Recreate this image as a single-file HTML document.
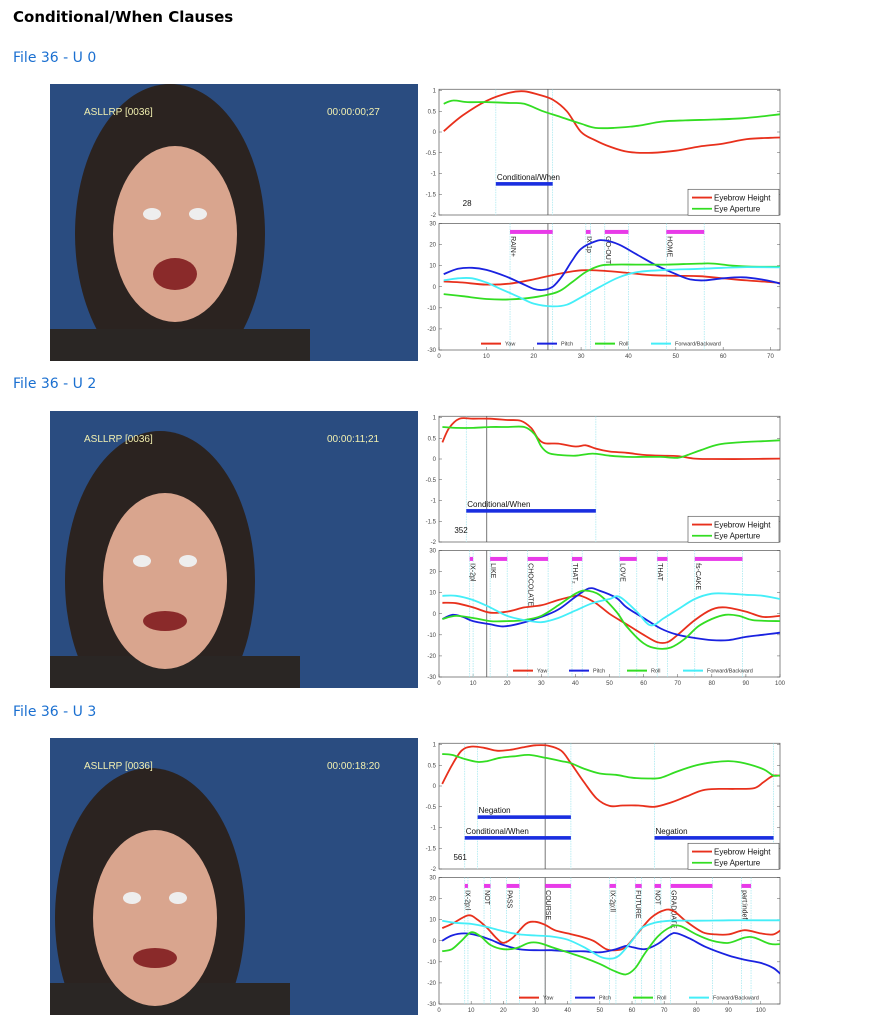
<!DOCTYPE html>
<html><head><meta charset="utf-8">
<style>
body{margin:0;background:#fff;width:878px;height:1024px;overflow:hidden;position:relative;font-family:"Liberation Sans",sans-serif}
h1{position:absolute;left:13px;top:8px;margin:0;font-size:15px;font-weight:bold;color:#000;font-family:"DejaVu Sans","Liberation Sans",sans-serif}
.fl{position:absolute;left:13px;font-size:14px;color:#1a6fd0;font-family:"DejaVu Sans","Liberation Sans",sans-serif}
.ph{position:absolute;left:50px;width:368px;height:277px;overflow:hidden}
.ch{position:absolute;left:420px;width:366px;height:282px}
</style></head><body>
<h1>Conditional/When Clauses</h1>
<div class="fl" style="top:50px">File 36 - U 0</div>
<div class="fl" style="top:376px">File 36 - U 2</div>
<div class="fl" style="top:704px">File 36 - U 3</div>
<div class="ph" id="ph0" style="top:84px"></div>
<div class="ph" id="ph1" style="top:411px"></div>
<div class="ph" id="ph2" style="top:738px"></div>
<svg class="ch" id="ch0" style="top:84px"></svg>
<svg class="ch" id="ch1" style="top:411px"></svg>
<svg class="ch" id="ch2" style="top:738px"></svg>
<script>
// ---------- Chart U0 ----------
const c1Eyebrow=[[1,0.02],[5,0.4],[10,0.75],[15,0.95],[18,0.98],[21,0.9],[24,0.78],[27,0.5],[30,0.0],[33,-0.2],[36,-0.35],[40,-0.48],[45,-0.5],[50,-0.45],[55,-0.35],[60,-0.28],[65,-0.17],[70,-0.14],[73,-0.13]];
const c1Eye=[[1,0.68],[3,0.76],[6,0.72],[10,0.72],[15,0.7],[18,0.68],[22,0.5],[26,0.35],[30,0.2],[33,0.1],[37,0.1],[42,0.15],[47,0.25],[52,0.28],[58,0.3],[64,0.33],[70,0.4],[73,0.44]];
const c1Yaw=[[1,2.5],[5,2],[10,1],[15,1.5],[20,3.5],[25,6],[30,7.8],[35,7.5],[40,6.5],[45,5.5],[50,5.2],[55,5],[60,4],[65,3],[70,2.2],[73,1.5]];
const c1Pitch=[[1,6],[4,8.5],[7,9],[10,8],[14,5],[17,2],[20,-1],[22,-1.5],[24,0],[26,5],[28,12],[30,18],[33,21.5],[35,22],[38,20],[42,15],[46,10],[50,6],[53,3.5],[56,3],[60,4],[64,4.5],[68,3.5],[72,1.5],[73,0]];
const c1Roll=[[1,-3.5],[5,-4.5],[10,-5.8],[15,-6],[20,-5],[25,-2.5],[28,2],[31,7],[34,10],[37,10.5],[42,10.5],[48,10.5],[55,11],[58,11],[62,10],[66,9.5],[73,9.5]];
const c1Fwd=[[1,3],[4,4],[7,4],[10,2],[13,-1],[17,-5],[20,-8],[24,-9.3],[27,-8.5],[30,-5],[34,0],[38,4.5],[42,7],[48,8],[55,8.5],[60,9],[65,9.3],[73,9.2]];
const c1Glosses=[["RAIN+",15,24],["IX-1p",31,32],["GO-OUT",35,40],["HOME",48,56]];
const c1Bars=[["Conditional/When",12,24,-1.25]];
const c1Marks=[12,24];
const c1XTicks=[0,10,20,30,40,50,60,70];
// ---------- Chart U2 ----------
const c2Eyebrow=[[1,0.4],[3,0.75],[6,0.97],[10,0.97],[15,0.97],[20,0.94],[24,0.92],[27,0.75],[29,0.5],[31,0.38],[35,0.37],[40,0.3],[43,0.33],[46,0.25],[50,0.18],[55,0.15],[60,0.1],[65,0.08],[70,0.07],[75,0.01],[80,0],[90,0],[100,0.01]];
const c2Eye=[[1,0.77],[5,0.75],[10,0.75],[15,0.77],[20,0.77],[25,0.77],[28,0.6],[30,0.3],[32,0.15],[35,0.1],[40,0.08],[45,0.13],[50,0.08],[55,0.05],[60,0.05],[65,0.05],[70,0.03],[73,0.1],[77,0.22],[82,0.35],[88,0.4],[95,0.43],[100,0.45]];
const c2Yaw=[[1,5.2],[5,5],[10,3],[15,0.5],[20,1],[25,3],[30,4],[35,6.5],[40,8.5],[42,8.3],[46,5],[50,0],[55,-5],[60,-10],[64,-13.5],[67,-13.5],[70,-10],[75,-3],[80,2],[84,3],[90,1],[95,-1.5],[100,-1]];
const c2Pitch=[[1,-2.5],[4,-0.5],[7,-1.5],[10,-3.5],[15,-5],[19,-6],[24,-4.5],[30,-1.5],[35,2],[40,8],[44,12],[47,11],[52,7.5],[55,3],[60,-2],[65,-7],[70,-10],[75,-11.5],[80,-12.5],[85,-12.5],[90,-11],[95,-10],[100,-9]];
const c2Roll=[[1,-2.5],[5,-1],[10,-2],[15,-3.5],[20,-3.5],[25,-3],[30,-1],[35,4],[40,9.5],[43,11],[47,9],[52,1],[55,-6],[60,-14],[64,-16.5],[68,-16],[72,-12],[76,-6],[80,-2.5],[84,-0.5],[88,-1],[92,-3],[100,-3.5]];
const c2Fwd=[[1,8.5],[5,8.5],[10,6.5],[15,3],[20,-1],[25,-3],[30,-4],[35,-2],[40,1.5],[45,5],[50,7],[53,8],[58,1],[62,-5.5],[66,-2],[70,2],[75,7],[80,9.5],[85,9.5],[90,9],[95,8.5],[100,7]];
const c2Glosses=[["IX-2pl",9,10],["LIKE",15,20],["CHOCOLATE",26,32],["THAT₂",39,42],["LOVE",53,58],["THAT",64,67],["fs-CAKE",75,89]];
const c2Bars=[["Conditional/When",8,46,-1.25]];
const c2Marks=[8,46];
const c2XTicks=[0,10,20,30,40,50,60,70,80,90,100];
// ---------- Chart U3 ----------
const c3Eyebrow=[[1,0.05],[4,0.5],[7,0.85],[10,0.95],[14,0.92],[18,0.85],[22,0.87],[26,0.93],[30,0.98],[34,0.97],[38,0.85],[41,0.55],[45,0.1],[49,-0.3],[53,-0.48],[57,-0.47],[62,-0.47],[67,-0.5],[72,-0.4],[77,-0.25],[82,-0.1],[87,-0.07],[92,-0.07],[98,-0.05],[101,0.1],[104,0.25],[107,0.23]];
const c3Eye=[[1,0.77],[4,0.75],[8,0.65],[12,0.58],[15,0.6],[19,0.68],[24,0.72],[28,0.75],[33,0.68],[38,0.6],[41,0.55],[45,0.42],[50,0.3],[55,0.27],[60,0.2],[65,0.18],[69,0.2],[74,0.35],[80,0.5],[85,0.57],[90,0.6],[95,0.55],[101,0.4],[104,0.25],[107,0.27]];
const c3Yaw=[[1,6],[4,8],[9,12],[12,10],[15,6],[18,1],[20,-1],[23,1.5],[27,8],[30,9],[33,7.5],[36,5],[40,3.5],[44,2],[48,0],[52,-4],[55,-4.5],[58,-3],[62,4],[66,11],[70,14.5],[73,14],[77,9],[82,4],[86,3],[90,3],[95,5],[100,3.5],[104,3],[107,6]];
const c3Pitch=[[1,0],[4,2.5],[8,3.5],[12,2.5],[16,0.5],[20,-2],[25,-4],[30,-4.5],[35,-4.5],[40,-5],[45,-5],[50,-5.5],[55,-4],[58,-2.5],[60,-3],[64,-4],[68,-1.5],[72,3],[74,3.5],[78,1],[83,-3],[90,-7],[95,-9],[100,-10.5],[104,-13],[107,-17]];
const c3Roll=[[1,-5],[4,-4],[7,0],[10,4],[13,2],[16,-2],[20,-4],[24,-3.5],[28,-1],[31,-1],[35,-3],[40,-5.5],[45,-8],[50,-11],[54,-14],[58,-16],[61,-13],[64,-6],[68,2],[72,6.5],[75,7],[80,3],[85,0],[90,-1],[95,1.5],[98,1.5],[103,-1.5],[107,-1.5]];
const c3Fwd=[[1,9.5],[5,8.5],[10,8],[15,6.5],[20,4.5],[25,3],[30,2.5],[35,2],[40,0.5],[45,-3],[50,-7.5],[53,-8.5],[56,-7],[60,0],[63,6],[67,8.5],[72,9.5],[80,9.5],[90,9.7],[100,9.7],[107,9.7]];
const c3Glosses=[["IX-2p:l",8,9],["NOT",14,16],["PASS",21,25],["COURSE",33,41],["IX-2p:ll",53,55],["FUTURE",61,63],["NOT",67,69],["GRADUATE",72,85],["part:indef",94,97]];
const c3Bars=[["Negation",12,41,-0.75],["Conditional/When",8,41,-1.25],["Negation",67,104,-1.25]];
const c3Marks=[8,12,41,67,104];
const c3XTicks=[0,10,20,30,40,50,60,70,80,90,100];

const NS="http://www.w3.org/2000/svg";
function mk(p,t,a){const e=document.createElementNS(NS,t);for(const k in a)e.setAttribute(k,a[k]);p.appendChild(e);return e;}
function smooth(pts){let d="M"+pts[0][0].toFixed(1)+","+pts[0][1].toFixed(1);
 for(let i=0;i<pts.length-1;i++){const p0=pts[Math.max(0,i-1)],p1=pts[i],p2=pts[i+1],p3=pts[Math.min(pts.length-1,i+2)];
 const c1x=p1[0]+(p2[0]-p0[0])/6,c1y=p1[1]+(p2[1]-p0[1])/6,c2x=p2[0]-(p3[0]-p1[0])/6,c2y=p2[1]-(p3[1]-p1[1])/6;
 d+=" C"+c1x.toFixed(1)+","+c1y.toFixed(1)+" "+c2x.toFixed(1)+","+c2y.toFixed(1)+" "+p2[0].toFixed(1)+","+p2[1].toFixed(1);}return d;}

function drawChart(id,cfg){
 const s=document.getElementById(id);
 const L=19,R=360;
 const X=v=>L+(v/cfg.xmax)*(R-L);
 const Yt=v=>6.5+(1-v)*(124.5/3);
 const Yb=v=>139.5+(30-v)*(126.5/60);
 const clipId=id+"c";
 const defs=mk(s,"defs",{});const cp=mk(defs,"clipPath",{id:clipId});mk(cp,"rect",{x:L,y:0,width:R-L,height:282});
 // panels
 const tp=mk(s,"rect",{x:L,y:Yt(1.03),width:R-L,height:Yt(-2)-Yt(1.03),fill:"#fff",stroke:"#555","stroke-width":0.7});
 
 
 const bp=mk(s,"rect",{x:L,y:Yb(30),width:R-L,height:Yb(-30)-Yb(30),fill:"#fff",stroke:"#555","stroke-width":0.7});
 
 
 // y ticks top
 [1,0.5,0,-0.5,-1,-1.5,-2].forEach(v=>{const t=mk(s,"text",{x:L-3,y:Yt(v)+2,"font-size":6,"text-anchor":"end",fill:"#444"});t.textContent=String(v);
  
  
  mk(s,"line",{x1:L,x2:L+3,y1:Yt(v),y2:Yt(v),stroke:"#555","stroke-width":0.5});mk(s,"line",{x1:R-3,x2:R,y1:Yt(v),y2:Yt(v),stroke:"#555","stroke-width":0.5});});
 [30,20,10,0,-10,-20,-30].forEach(v=>{const t=mk(s,"text",{x:L-3,y:Yb(v)+2,"font-size":6,"text-anchor":"end",fill:"#444"});t.textContent=String(v);
  
  
  mk(s,"line",{x1:L,x2:L+3,y1:Yb(v),y2:Yb(v),stroke:"#555","stroke-width":0.5});mk(s,"line",{x1:R-3,x2:R,y1:Yb(v),y2:Yb(v),stroke:"#555","stroke-width":0.5});});
 cfg.xticks.forEach(v=>{const t=mk(s,"text",{x:X(v),y:Yb(-30)+8,"font-size":6,"text-anchor":"middle",fill:"#444"});t.textContent=String(v);
  
  
  mk(s,"line",{x1:X(v),x2:X(v),y1:Yb(-30),y2:Yb(-30)-3,stroke:"#555","stroke-width":0.5});});
 // top panel marks
 cfg.marks.forEach(m=>{const l=mk(s,"line",{x1:X(m),x2:X(m),y1:Yt(1.03),y2:Yt(-2),stroke:"#9ee6ee","stroke-width":0.7,"stroke-dasharray":"1.5,1"});
  
  });
 mk(s,"line",{x1:X(cfg.cur),x2:X(cfg.cur),y1:Yt(1.03),y2:Yt(-2),stroke:"#555","stroke-width":0.8});
 const g1=mk(s,"g",{"clip-path":"url(#"+clipId+")"});
 [[cfg.eyebrow,"#e8301c","eyebrow-height-line"],[cfg.eye,"#33dd22","eye-aperture-line"]].forEach(([d,c,n])=>{
  const p=mk(g1,"path",{d:smooth(d.map(q=>[X(q[0]),Yt(q[1])])),fill:"none",stroke:c,"stroke-width":1.8});
  
  });
 cfg.bars.forEach(b=>{const r=mk(s,"rect",{x:X(b[1]),y:Yt(b[3])-1.8,width:X(b[2])-X(b[1]),height:3.6,fill:"#1a2ee0"});
  
  
  const t=mk(s,"text",{x:X(b[1])+1,y:Yt(b[3])-4,"font-size":8,fill:"#111"});t.textContent=b[0];
  
  });
 const fr=mk(s,"text",{x:X(cfg.frameX),y:Yt(-1.78),"font-size":8,fill:"#111"});fr.textContent=cfg.frame;
 
 
 // legend top
 const lg=mk(s,"g",{});
 mk(lg,"rect",{x:268,y:Yt(-1.38),width:91,height:26,fill:"#fff",stroke:"#444","stroke-width":0.6});
 [["Eyebrow Height","#e8301c",-1.58],["Eye Aperture","#33dd22",-1.85]].forEach(([n,c,v])=>{
  mk(lg,"line",{x1:272,x2:292,y1:Yt(v),y2:Yt(v),stroke:c,"stroke-width":1.8});
  const t=mk(lg,"text",{x:294,y:Yt(v)+2.8,"font-size":8,fill:"#111"});t.textContent=n;
  
  });
 // bottom marks
 cfg.glosses.forEach(g=>{[g[1],g[2]].forEach(m=>mk(s,"line",{x1:X(m),x2:X(m),y1:Yb(30),y2:Yb(-30),stroke:"#9ee6ee","stroke-width":0.7,"stroke-dasharray":"1.5,1"}));});
 mk(s,"line",{x1:X(cfg.cur),x2:X(cfg.cur),y1:Yb(30),y2:Yb(-30),stroke:"#555","stroke-width":0.8});
 cfg.glosses.forEach(g=>{const r=mk(s,"rect",{x:X(g[1]),y:Yb(26)-2,width:Math.max(2,X(g[2])-X(g[1])),height:4,fill:"#e83be8"});
  
  
  const tx=X(g[1])+1,ty=Yb(24);
  const t=mk(s,"text",{x:tx,y:ty,"font-size":7,fill:"#222",transform:"rotate(90 "+tx+" "+ty+")"});t.textContent=g[0];
  
  });
 const g2=mk(s,"g",{"clip-path":"url(#"+clipId+")"});
 [[cfg.yaw,"#e8301c","yaw-line"],[cfg.pitch,"#1a22e0","pitch-line"],[cfg.roll,"#33dd22","roll-line"],[cfg.fwd,"#44eef8","forward-backward-line"]].forEach(([d,c,n])=>{
  const p=mk(g2,"path",{d:smooth(d.map(q=>[X(q[0]),Yb(q[1])])),fill:"none",stroke:c,"stroke-width":1.8});
  
  });
 // bottom legend
 const lx=cfg.legX;
 [["Yaw","#e8301c",0],["Pitch","#1a22e0",56],["Roll","#33dd22",114],["Forward/Backward","#44eef8",170]].forEach(([n,c,o])=>{
  const yy=Yb(-27);
  mk(s,"line",{x1:lx+o,x2:lx+o+20,y1:yy,y2:yy,stroke:c,"stroke-width":2});
  const t=mk(s,"text",{x:lx+o+24,y:yy+2,"font-size":5.5,fill:"#333"});t.textContent=n;
  
  });
}
drawChart("ch0",{xmax:72,eyebrow:c1Eyebrow,eye:c1Eye,yaw:c1Yaw,pitch:c1Pitch,roll:c1Roll,fwd:c1Fwd,glosses:c1Glosses,bars:c1Bars,marks:c1Marks,xticks:c1XTicks,cur:23,frame:"28",frameX:5,legX:61});
drawChart("ch1",{xmax:100,eyebrow:c2Eyebrow,eye:c2Eye,yaw:c2Yaw,pitch:c2Pitch,roll:c2Roll,fwd:c2Fwd,glosses:c2Glosses,bars:c2Bars,marks:c2Marks,xticks:c2XTicks,cur:14,frame:"352",frameX:4.5,legX:93});
drawChart("ch2",{xmax:106,eyebrow:c3Eyebrow,eye:c3Eye,yaw:c3Yaw,pitch:c3Pitch,roll:c3Roll,fwd:c3Fwd,glosses:c3Glosses,bars:c3Bars,marks:c3Marks,xticks:c3XTicks,cur:33,frame:"561",frameX:4.5,legX:99});

// photos (schematic)
const photos=[["00:00:00;27",120,130],["00:00:11;21",110,150],["00:00:18:20",100,160]];
photos.forEach((p,i)=>{
 const d=document.getElementById("ph"+i);
 d.innerHTML='<svg width="368" height="277" xmlns="http://www.w3.org/2000/svg">'+
 '<rect width="368" height="277" fill="#2a4c80"/>'+
 '<ellipse cx="'+p[1]+'" cy="'+(p[2]+20)+'" rx="95" ry="150" fill="#2b2320"/>'+
 '<rect x="'+(p[1]-120)+'" y="245" width="260" height="40" fill="#2a2624"/>'+
 '<ellipse cx="'+(p[1]+5)+'" cy="'+(p[2]+20)+'" rx="62" ry="88" fill="#d9a58e"/>'+
 '<ellipse cx="'+(p[1]-18)+'" cy="'+(p[2])+'" rx="9" ry="6" fill="#eee"/>'+
 '<ellipse cx="'+(p[1]+28)+'" cy="'+(p[2])+'" rx="9" ry="6" fill="#eee"/>'+
 '<ellipse cx="'+(p[1]+5)+'" cy="'+(p[2]+60)+'" rx="22" ry="'+(i==0?16:10)+'" fill="#8a2a2a"/>'+
 '<text x="34" y="31" font-size="10" fill="#f2f0b0" font-family="Liberation Sans">ASLLRP [0036]</text>'+
 '<text x="277" y="31" font-size="10" fill="#f2f0b0" font-family="Liberation Sans">'+p[0]+'</text></svg>';
});
</script>
</body></html>
